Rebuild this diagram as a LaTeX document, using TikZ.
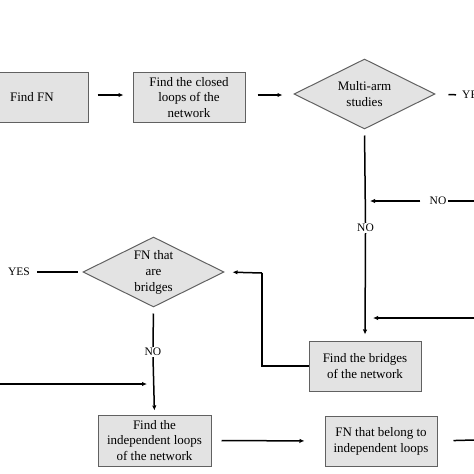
\documentclass[tikz,border=0pt]{standalone}
\usepackage{fontspec}
\setmainfont{Liberation Serif}
\usetikzlibrary{shapes.geometric,arrows.meta}
\begin{document}
\begin{tikzpicture}[x=1pt,y=-1pt,
  box/.style={draw=black!62,fill=black!11,line width=1pt,minimum width=112pt,minimum height=50pt,align=center,inner sep=0pt,font=\fontsize{13}{15.8}\selectfont},
  dia/.style={diamond,draw=black!62,fill=black!11,line width=1pt,minimum width=141pt,minimum height=70pt,aspect=2,inner sep=0pt,align=center,font=\fontsize{13}{16}\selectfont},
  lbl/.style={fill=white,inner sep=1pt,font=\fontsize{11.5}{13}\selectfont},
  conn/.style={line width=1.5pt},
  arr/.style={conn,-{Latex[length=5pt,width=4.5pt]}}]
\useasboundingbox (0,0) rectangle (474,474);
\clip (0,0) rectangle (474,474);
% nodes
\node[box] (fn) at (32,97.5) {Find FN};
\node[box] (loops) at (189,97.5) {Find the closed\\loops of the\\network};
\node[dia] (multi) at (364.5,94) {Multi-arm\\studies};
\node[box] (bridges) at (365,366) {Find the bridges\\of the network};
\node[dia] (fnb) at (153.5,272) {FN that\\are\\bridges};
\node[box,minimum width=113pt,minimum height=51pt] (indep) at (154.5,440.5) {Find the\\independent loops\\of the network};
\node[box] (belong) at (381,441) {FN that belong to\\independent loops};
% labels
\node[lbl,anchor=west] (yes1) at (461,95) {YES};
\node[lbl] (yes2) at (19,272) {YES};
\node[lbl] (no1) at (438,201) {NO};
\node[lbl] (no2) at (365.5,228) {NO};
\node[lbl] (no3) at (153,352) {NO};
% helper coordinates
\coordinate (e1) at (474,201);
\coordinate (e2) at (474,318);
\coordinate (e3) at (0,384);
\coordinate (e4) at (474,440);
\coordinate (t1) at (370,201);
\coordinate (t2) at (373,318);
\coordinate (t3) at (147,384);
\coordinate (c1) at (262,366);
\coordinate (c2) at (262,273);
% connectors
\draw[arr,shorten <=9pt,shorten >=9pt] (fn.east |- 0,95) -- (loops.west |- 0,95);
\draw[arr,shorten <=12pt,shorten >=11pt] (loops.east |- 0,95) -- (multi.west |- 0,95);
\draw[conn,shorten <=13pt,shorten >=5pt] (multi.east) -- (yes1.west);
\draw[conn,shorten <=6pt] (multi.south) -- (no2.north);
\draw[arr,shorten >=6pt] (no2.south) -- (bridges.north);
\draw[conn] (e1) -- (no1.east);
\draw[arr,shorten <=8pt] (no1.west) -- (t1);
\draw[arr] (e2) -- (t2);
\draw[conn] (bridges.west |- c1) -- (c1) -- (c2);
\draw[arr,shorten >=8pt] (c2) -- (fnb.east);
\draw[conn,shorten <=6pt,shorten >=5pt] (yes2.east) -- (fnb.west);
\draw[conn,shorten <=6pt] (fnb.south) -- (no3.north);
\draw[arr,shorten >=4pt] (no3.south) -- (indep.north);
\draw[arr] (e3) -- (t3);
\draw[arr,shorten <=10pt,shorten >=20pt] (indep.east) -- (belong.west);
\draw[conn,shorten <=16pt] (belong.east) -- (e4);
\end{tikzpicture}
\end{document}
